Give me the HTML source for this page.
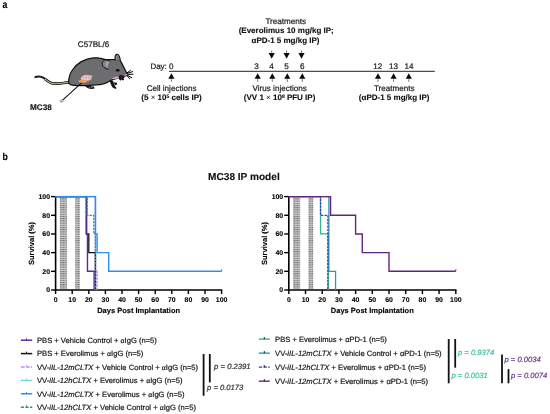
<!DOCTYPE html><html><head><meta charset="utf-8"><style>html,body{margin:0;padding:0;background:#fff;}svg{display:block;}text{text-rendering:geometricPrecision;font-family:'Liberation Sans',Arial,sans-serif;}</style></head><body>
<svg width="550" height="414" viewBox="0 0 550 414">
<defs><pattern id="hatch" patternUnits="userSpaceOnUse" x="0" y="0.4" width="6" height="2.2"><rect width="6" height="2.2" fill="#cbcbcb"/><rect x="0" y="0" width="1.3" height="1" fill="#6e6e6e"/><rect x="1.5" y="0" width="1.2" height="1" fill="#7c7c7c"/><rect x="3" y="0" width="1.3" height="1" fill="#6a6a6a"/><rect x="4.5" y="0" width="1.2" height="1" fill="#858585"/><rect x="0" y="1" width="6" height="0.4" fill="#a8a8a8"/></pattern></defs>
<rect width="550" height="414" fill="#fff"/>
<text transform="translate(2.5,7.8) scale(0.82,1)" x="0" y="0" font-size="10.6" font-weight="bold" fill="#000" stroke="#000" stroke-width="0.15">a</text>
<text transform="translate(2.6,159.9) scale(0.86,1)" x="0" y="0" font-size="10" font-weight="bold" fill="#000" stroke="#000" stroke-width="0.15">b</text>
<g id="mouse" stroke-linejoin="round">
<path d="M35.4,76.9 C38.5,76.2 41.5,76.6 44,78.2 C46.5,80 48.5,82.4 52,83.3 C55,84 60,83.6 63.5,83 L69.5,82.4" fill="none" stroke="#1a1a1a" stroke-width="2.1" stroke-linecap="round"/>
<path d="M44.6,78.7 C46.8,80.4 48.8,82.6 52,83.3 C55,84 60,83.6 63.5,83 L69.5,82.4" fill="none" stroke="#1a1a1a" stroke-width="2.7"/>
<path d="M44.6,78.7 C46.8,80.4 48.8,82.6 52,83.3 C55,84 60,83.6 63.5,83 L69.5,82.4" fill="none" stroke="#c9b993" stroke-width="1.1"/>
<path d="M68.6,82 C68.8,77.5 70.2,73 72.4,70 C75,66.4 78,63.5 81.3,61.6 C85,59.6 89,58.3 93.4,57.9 C96,57.7 98,57.8 99.5,58.1 C102,58.5 104,59.3 106,59.5 L115.4,59.6 L119.8,59.8 C121.2,62 123.5,66.5 124.8,69.3 L126.6,72.8 C127.3,74 127.2,75.2 126.3,75.8 C124,77 120,78 116,78.6 C113,79.2 111.5,80 110,81 C107,83 103.5,84.3 100,84.6 L86,85.6 C80,85.8 73,85.6 70.4,84.6 C69.2,84 68.6,83 68.6,82 Z" fill="#6d6c6f" stroke="#111" stroke-width="1.25"/>
<path d="M115.2,60.4 C114.8,58 115,55 116.6,54.3 C118.2,53.8 119.2,55.6 119.8,57.6 L120.4,60.4" fill="#7d7b80" stroke="#111" stroke-width="1.05"/>
<path d="M116.6,58.6 C116.4,57.2 116.8,55.8 117.6,55.6" fill="none" stroke="#9a98a0" stroke-width="0.6"/>
<path d="M110.2,61.3 C107.5,59.4 103.6,59.6 102.4,62 C101.4,64.6 103,68.4 108.6,69.4 C107.4,66.8 107.8,63.6 110.2,61.3 Z" fill="#858089" stroke="none"/>
<path d="M109.6,61.8 C107.6,61.2 105.6,62 105.4,63.8 C105.4,65.6 106.6,66.8 108.2,67.4 C107.6,65.4 108,63.2 109.6,61.8 Z" fill="#ad9db4" stroke="none"/>
<path d="M110.2,61.3 C107.5,59.4 103.6,59.6 102.4,62 C101.4,64.6 103,68.4 108.6,69.4" fill="none" stroke="#151515" stroke-width="1.0"/>
<ellipse cx="117.7" cy="70.3" rx="1.9" ry="1.35" fill="#111"/>
<path d="M111.5,78.6 C115,76.6 120,75.4 126,75.2 C125,77 121,78 118,78.6 C115,79.2 113,79.4 111.5,78.6 Z" fill="#c0aac4"/>
<path d="M118.4,76 C119.6,74.8 122,74.4 124,75.6 L124.6,77.4 L123.4,78.2 L124.2,79.8 L122.6,80.6 L121.6,79.4 L120.4,80.8 L119.2,79.6 Z" fill="#151515"/>
<path d="M120.4,77 L122.4,76.6" stroke="#6d6c6f" stroke-width="0.5"/>
<path d="M126.8,73.6 L132.6,71.6 M127,74.4 L133,74.2 M126.8,75 L131.8,77.8 M126.4,73.4 L130.4,70.4 M126.6,75.2 L129.6,78.6" stroke="#000" stroke-width="1.0" fill="none" stroke-linecap="round"/>
<ellipse cx="126.4" cy="74.6" rx="1.1" ry="0.9" fill="#c6a6c4"/>
<path d="M109.6,80.6 C110.6,83.6 111.4,86.2 112.6,87.6 L115.6,89 L116.6,88 C115,86.6 113.8,84 113.2,81 Z" fill="#151515"/>
<path d="M113.6,82.4 L116.6,82.6 L117.2,84.6 L115,85.2 Z" fill="#151515"/>
<path d="M84.6,85 C86,87.6 88.6,89 92,89 L94.6,88.4 L94,86.6 C91.6,86.6 89.6,86 88.6,85 Z" fill="#151515"/>
<path d="M88.4,87.2 L90.6,87.6 L92.8,87.2" stroke="#8a8a8a" stroke-width="0.5" fill="none"/>
<path d="M80.8,78.6 C81.6,76.6 83,75 86,74.9 L91.8,75.6 L91.2,79.4 L88,80.8 L81.6,80.6 Z" fill="#e6c6cc" stroke="#d59aa6" stroke-width="0.45"/>
<path d="M83.5,76.4 L82.6,79.6 M86.6,76 L85.4,79.8 M89.4,76.2 L88.6,79.8 M84,77.6 L90.6,77.8" stroke="#d08fa0" stroke-width="0.4" fill="none"/>
<ellipse cx="82.8" cy="81.4" rx="4.2" ry="1.3" fill="#f1a055"/>
<path d="M81.6,82.8 L62.6,100.2" stroke="#111" stroke-width="1.1"/>
<path d="M59.6,100.6 L62.2,99.2 L63.6,101.4 L61,102.8 Z" fill="#b4b4b4" stroke="#888" stroke-width="0.3"/>
</g>
<text x="77.80" y="46.60" font-size="8.1" font-weight="normal" font-style="normal" text-anchor="start" fill="#222" stroke="#222" stroke-width="0.22" >C57BL/6</text>
<text x="30.00" y="109.70" font-size="8.2" font-weight="bold" font-style="normal" text-anchor="start" fill="#111" stroke="#111" stroke-width="0.12" >MC38</text>
<line x1="169" y1="71.3" x2="434.8" y2="71.3" stroke="#222" stroke-width="1"/>
<text x="150.40" y="68.60" font-size="8.0" font-weight="normal" font-style="normal" text-anchor="start" fill="#222" stroke="#222" stroke-width="0.22" >Day: 0</text>
<text x="256.50" y="68.60" font-size="8.1" font-weight="normal" font-style="normal" text-anchor="middle" fill="#222" stroke="#222" stroke-width="0.22" >3</text>
<text x="271.50" y="68.60" font-size="8.1" font-weight="normal" font-style="normal" text-anchor="middle" fill="#222" stroke="#222" stroke-width="0.22" >4</text>
<text x="286.50" y="68.60" font-size="8.1" font-weight="normal" font-style="normal" text-anchor="middle" fill="#222" stroke="#222" stroke-width="0.22" >5</text>
<text x="302.30" y="68.60" font-size="8.1" font-weight="normal" font-style="normal" text-anchor="middle" fill="#222" stroke="#222" stroke-width="0.22" >6</text>
<text x="377.70" y="68.60" font-size="8.1" font-weight="normal" font-style="normal" text-anchor="middle" fill="#222" stroke="#222" stroke-width="0.22" >12</text>
<text x="393.40" y="68.60" font-size="8.1" font-weight="normal" font-style="normal" text-anchor="middle" fill="#222" stroke="#222" stroke-width="0.22" >13</text>
<text x="409.00" y="68.60" font-size="8.1" font-weight="normal" font-style="normal" text-anchor="middle" fill="#222" stroke="#222" stroke-width="0.22" >14</text>
<path d="M168.30,78.8 L171.40,73.2 L174.50,78.8 Z" fill="#0a0a0a"/>
<line x1="171.40" y1="78" x2="171.40" y2="81.6" stroke="#222" stroke-width="0.8" stroke-dasharray="1.6,0.6,1.4"/>
<path d="M254.60,78.8 L257.70,73.2 L260.80,78.8 Z" fill="#0a0a0a"/>
<line x1="257.70" y1="78" x2="257.70" y2="81.6" stroke="#222" stroke-width="0.8" stroke-dasharray="1.6,0.6,1.4"/>
<path d="M269.20,78.8 L272.30,73.2 L275.40,78.8 Z" fill="#0a0a0a"/>
<line x1="272.30" y1="78" x2="272.30" y2="81.6" stroke="#222" stroke-width="0.8" stroke-dasharray="1.6,0.6,1.4"/>
<path d="M284.20,78.8 L287.30,73.2 L290.40,78.8 Z" fill="#0a0a0a"/>
<line x1="287.30" y1="78" x2="287.30" y2="81.6" stroke="#222" stroke-width="0.8" stroke-dasharray="1.6,0.6,1.4"/>
<path d="M299.20,78.8 L302.30,73.2 L305.40,78.8 Z" fill="#0a0a0a"/>
<line x1="302.30" y1="78" x2="302.30" y2="81.6" stroke="#222" stroke-width="0.8" stroke-dasharray="1.6,0.6,1.4"/>
<path d="M374.90,78.8 L378.00,73.2 L381.10,78.8 Z" fill="#0a0a0a"/>
<line x1="378.00" y1="78" x2="378.00" y2="81.6" stroke="#222" stroke-width="0.8" stroke-dasharray="1.6,0.6,1.4"/>
<path d="M390.50,78.8 L393.60,73.2 L396.70,78.8 Z" fill="#0a0a0a"/>
<line x1="393.60" y1="78" x2="393.60" y2="81.6" stroke="#222" stroke-width="0.8" stroke-dasharray="1.6,0.6,1.4"/>
<path d="M405.70,78.8 L408.80,73.2 L411.90,78.8 Z" fill="#0a0a0a"/>
<line x1="408.80" y1="78" x2="408.80" y2="81.6" stroke="#222" stroke-width="0.8" stroke-dasharray="1.6,0.6,1.4"/>
<path d="M268.60,53.1 L271.70,58.7 L274.80,53.1 Z" fill="#0a0a0a"/>
<line x1="271.70" y1="50.6" x2="271.70" y2="54" stroke="#222" stroke-width="0.8" stroke-dasharray="1.2,0.6,2"/>
<path d="M283.50,53.1 L286.60,58.7 L289.70,53.1 Z" fill="#0a0a0a"/>
<line x1="286.60" y1="50.6" x2="286.60" y2="54" stroke="#222" stroke-width="0.8" stroke-dasharray="1.2,0.6,2"/>
<path d="M298.40,53.1 L301.50,58.7 L304.60,53.1 Z" fill="#0a0a0a"/>
<line x1="301.50" y1="50.6" x2="301.50" y2="54" stroke="#222" stroke-width="0.8" stroke-dasharray="1.2,0.6,2"/>
<text x="285.80" y="24.00" font-size="8.1" font-weight="normal" font-style="normal" text-anchor="middle" fill="#222" stroke="#222" stroke-width="0.22" >Treatments</text>
<text x="286.20" y="33.20" font-size="8.0" font-weight="bold" font-style="normal" text-anchor="middle" fill="#111" stroke="#111" stroke-width="0.12" >(Everolimus 10 mg/kg IP;</text>
<text x="285.50" y="43.00" font-size="8.0" font-weight="bold" font-style="normal" text-anchor="middle" fill="#111" stroke="#111" stroke-width="0.12" >αPD-1 5 mg/kg IP)</text>
<text x="171.60" y="91.00" font-size="8.1" font-weight="normal" font-style="normal" text-anchor="middle" fill="#222" stroke="#222" stroke-width="0.22" >Cell injections</text>
<text x="171.5" y="100.4" font-size="8.0" font-weight="bold" text-anchor="middle" fill="#111" stroke="#111" stroke-width="0.12">(5 <tspan font-weight="normal" stroke-width="0">×</tspan> 10<tspan font-size="5" dy="-2.8">5</tspan><tspan dy="2.8"> cells IP)</tspan></text>
<text x="279.70" y="91.00" font-size="8.1" font-weight="normal" font-style="normal" text-anchor="middle" fill="#222" stroke="#222" stroke-width="0.22" >Virus injections</text>
<text x="279.6" y="100.4" font-size="8.0" font-weight="bold" text-anchor="middle" fill="#111" stroke="#111" stroke-width="0.12">(VV 1 <tspan font-weight="normal" stroke-width="0">×</tspan> 10<tspan font-size="5" dy="-2.8">8</tspan><tspan dy="2.8"> PFU IP)</tspan></text>
<text x="394.20" y="91.00" font-size="8.1" font-weight="normal" font-style="normal" text-anchor="middle" fill="#222" stroke="#222" stroke-width="0.22" >Treatments</text>
<text x="394.20" y="100.40" font-size="8.0" font-weight="bold" font-style="normal" text-anchor="middle" fill="#111" stroke="#111" stroke-width="0.12" >(αPD-1 5 mg/kg IP)</text>
<text x="243.90" y="180.30" font-size="10.1" font-weight="bold" font-style="normal" text-anchor="middle" fill="#111" stroke="#111" stroke-width="0.12" >MC38 IP model</text>
<rect x="59.92" y="197.40" width="6.97" height="91.80" fill="url(#hatch)"/>
<rect x="75.19" y="197.40" width="4.65" height="91.80" fill="url(#hatch)"/>
<line x1="55.60" y1="196.10" x2="55.60" y2="291.00" stroke="#000" stroke-width="1.6"/>
<line x1="51.00" y1="290.00" x2="55.60" y2="290.00" stroke="#000" stroke-width="1.4"/>
<text x="50.00" y="292.40" font-size="6.9" font-weight="bold" font-style="normal" text-anchor="end" fill="#000" stroke="#000" stroke-width="0.12" >0</text>
<line x1="51.00" y1="271.32" x2="55.60" y2="271.32" stroke="#000" stroke-width="1.4"/>
<text x="50.00" y="273.72" font-size="6.9" font-weight="bold" font-style="normal" text-anchor="end" fill="#000" stroke="#000" stroke-width="0.12" >20</text>
<line x1="51.00" y1="252.64" x2="55.60" y2="252.64" stroke="#000" stroke-width="1.4"/>
<text x="50.00" y="255.04" font-size="6.9" font-weight="bold" font-style="normal" text-anchor="end" fill="#000" stroke="#000" stroke-width="0.12" >40</text>
<line x1="51.00" y1="233.96" x2="55.60" y2="233.96" stroke="#000" stroke-width="1.4"/>
<text x="50.00" y="236.36" font-size="6.9" font-weight="bold" font-style="normal" text-anchor="end" fill="#000" stroke="#000" stroke-width="0.12" >60</text>
<line x1="51.00" y1="215.28" x2="55.60" y2="215.28" stroke="#000" stroke-width="1.4"/>
<text x="50.00" y="217.68" font-size="6.9" font-weight="bold" font-style="normal" text-anchor="end" fill="#000" stroke="#000" stroke-width="0.12" >80</text>
<line x1="51.00" y1="196.60" x2="55.60" y2="196.60" stroke="#000" stroke-width="1.4"/>
<text x="50.00" y="199.00" font-size="6.9" font-weight="bold" font-style="normal" text-anchor="end" fill="#000" stroke="#000" stroke-width="0.12" >100</text>
<line x1="54.80" y1="290.00" x2="222.30" y2="290.00" stroke="#000" stroke-width="1.6"/>
<line x1="55.60" y1="290.00" x2="55.60" y2="294.00" stroke="#000" stroke-width="1.4"/>
<text x="55.60" y="301.90" font-size="6.9" font-weight="bold" font-style="normal" text-anchor="middle" fill="#000" stroke="#000" stroke-width="0.12" >0</text>
<line x1="72.20" y1="290.00" x2="72.20" y2="294.00" stroke="#000" stroke-width="1.4"/>
<text x="72.20" y="301.90" font-size="6.9" font-weight="bold" font-style="normal" text-anchor="middle" fill="#000" stroke="#000" stroke-width="0.12" >10</text>
<line x1="88.80" y1="290.00" x2="88.80" y2="294.00" stroke="#000" stroke-width="1.4"/>
<text x="88.80" y="301.90" font-size="6.9" font-weight="bold" font-style="normal" text-anchor="middle" fill="#000" stroke="#000" stroke-width="0.12" >20</text>
<line x1="105.40" y1="290.00" x2="105.40" y2="294.00" stroke="#000" stroke-width="1.4"/>
<text x="105.40" y="301.90" font-size="6.9" font-weight="bold" font-style="normal" text-anchor="middle" fill="#000" stroke="#000" stroke-width="0.12" >30</text>
<line x1="122.00" y1="290.00" x2="122.00" y2="294.00" stroke="#000" stroke-width="1.4"/>
<text x="122.00" y="301.90" font-size="6.9" font-weight="bold" font-style="normal" text-anchor="middle" fill="#000" stroke="#000" stroke-width="0.12" >40</text>
<line x1="138.60" y1="290.00" x2="138.60" y2="294.00" stroke="#000" stroke-width="1.4"/>
<text x="138.60" y="301.90" font-size="6.9" font-weight="bold" font-style="normal" text-anchor="middle" fill="#000" stroke="#000" stroke-width="0.12" >50</text>
<line x1="155.20" y1="290.00" x2="155.20" y2="294.00" stroke="#000" stroke-width="1.4"/>
<text x="155.20" y="301.90" font-size="6.9" font-weight="bold" font-style="normal" text-anchor="middle" fill="#000" stroke="#000" stroke-width="0.12" >60</text>
<line x1="171.80" y1="290.00" x2="171.80" y2="294.00" stroke="#000" stroke-width="1.4"/>
<text x="171.80" y="301.90" font-size="6.9" font-weight="bold" font-style="normal" text-anchor="middle" fill="#000" stroke="#000" stroke-width="0.12" >70</text>
<line x1="188.40" y1="290.00" x2="188.40" y2="294.00" stroke="#000" stroke-width="1.4"/>
<text x="188.40" y="301.90" font-size="6.9" font-weight="bold" font-style="normal" text-anchor="middle" fill="#000" stroke="#000" stroke-width="0.12" >80</text>
<line x1="205.00" y1="290.00" x2="205.00" y2="294.00" stroke="#000" stroke-width="1.4"/>
<text x="205.00" y="301.90" font-size="6.9" font-weight="bold" font-style="normal" text-anchor="middle" fill="#000" stroke="#000" stroke-width="0.12" >90</text>
<line x1="221.60" y1="290.00" x2="221.60" y2="294.00" stroke="#000" stroke-width="1.4"/>
<text x="221.60" y="301.90" font-size="6.9" font-weight="bold" font-style="normal" text-anchor="middle" fill="#000" stroke="#000" stroke-width="0.12" >100</text>
<text x="138.60" y="312.50" font-size="7.5" font-weight="bold" font-style="normal" text-anchor="middle" fill="#000" stroke="#000" stroke-width="0.12" >Days Post Implantation</text>
<text transform="translate(33.80,243.5) rotate(-90)" x="0" y="0" font-size="7.5" font-weight="bold" text-anchor="middle" fill="#000" stroke="#000" stroke-width="0.12">Survival (%)</text>
<path d="M55.60,196.60 L95.44,196.60 L95.44,290.00" fill="none" stroke="#6fd0f4" stroke-width="1.3" stroke-linejoin="miter"/>
<path d="M55.60,196.60 L95.44,196.60 L95.44,271.32 L97.10,271.32 L97.10,290.00" fill="none" stroke="#c48cf2" stroke-width="1.5" stroke-dasharray="2.2,1.2" stroke-linejoin="miter"/>
<path d="M55.60,196.60 L86.64,196.60 L86.64,233.96 L88.80,233.96 L88.80,252.64 L95.44,252.64 L95.44,290.00" fill="none" stroke="#111" stroke-width="1.3" stroke-linejoin="miter"/>
<path d="M55.60,196.60 L86.14,196.60 L86.14,233.96 L87.47,233.96 L87.47,271.32 L94.11,271.32 L94.11,290.00" fill="none" stroke="#5b2c9f" stroke-width="1.4" stroke-linejoin="miter"/>
<path d="M55.60,196.60 L87.14,196.60 L87.14,215.28 L93.78,215.28 L93.78,233.96 L95.44,233.96 L95.44,290.00" fill="none" stroke="#1f9a8c" stroke-width="1.3" stroke-dasharray="2.2,1.1" stroke-linejoin="miter"/>
<path d="M55.60,196.60 L95.44,196.60 L95.44,233.96 L97.10,233.96 L97.10,252.64 L108.72,252.64 L108.72,271.32 L221.60,271.32" fill="none" stroke="#2e8ff0" stroke-width="1.4" stroke-linejoin="miter"/>
<line x1="221.60" y1="271.32" x2="221.60" y2="269.32" stroke="#2e8ff0" stroke-width="1"/>
<rect x="293.14" y="197.40" width="7.01" height="91.80" fill="url(#hatch)"/>
<rect x="308.51" y="197.40" width="4.68" height="91.80" fill="url(#hatch)"/>
<line x1="288.80" y1="196.10" x2="288.80" y2="291.00" stroke="#000" stroke-width="1.6"/>
<line x1="284.20" y1="290.00" x2="288.80" y2="290.00" stroke="#000" stroke-width="1.4"/>
<text x="283.20" y="292.40" font-size="6.9" font-weight="bold" font-style="normal" text-anchor="end" fill="#000" stroke="#000" stroke-width="0.12" >0</text>
<line x1="284.20" y1="271.32" x2="288.80" y2="271.32" stroke="#000" stroke-width="1.4"/>
<text x="283.20" y="273.72" font-size="6.9" font-weight="bold" font-style="normal" text-anchor="end" fill="#000" stroke="#000" stroke-width="0.12" >20</text>
<line x1="284.20" y1="252.64" x2="288.80" y2="252.64" stroke="#000" stroke-width="1.4"/>
<text x="283.20" y="255.04" font-size="6.9" font-weight="bold" font-style="normal" text-anchor="end" fill="#000" stroke="#000" stroke-width="0.12" >40</text>
<line x1="284.20" y1="233.96" x2="288.80" y2="233.96" stroke="#000" stroke-width="1.4"/>
<text x="283.20" y="236.36" font-size="6.9" font-weight="bold" font-style="normal" text-anchor="end" fill="#000" stroke="#000" stroke-width="0.12" >60</text>
<line x1="284.20" y1="215.28" x2="288.80" y2="215.28" stroke="#000" stroke-width="1.4"/>
<text x="283.20" y="217.68" font-size="6.9" font-weight="bold" font-style="normal" text-anchor="end" fill="#000" stroke="#000" stroke-width="0.12" >80</text>
<line x1="284.20" y1="196.60" x2="288.80" y2="196.60" stroke="#000" stroke-width="1.4"/>
<text x="283.20" y="199.00" font-size="6.9" font-weight="bold" font-style="normal" text-anchor="end" fill="#000" stroke="#000" stroke-width="0.12" >100</text>
<line x1="288.00" y1="290.00" x2="456.50" y2="290.00" stroke="#000" stroke-width="1.6"/>
<line x1="288.80" y1="290.00" x2="288.80" y2="294.00" stroke="#000" stroke-width="1.4"/>
<text x="288.80" y="301.90" font-size="6.9" font-weight="bold" font-style="normal" text-anchor="middle" fill="#000" stroke="#000" stroke-width="0.12" >0</text>
<line x1="305.50" y1="290.00" x2="305.50" y2="294.00" stroke="#000" stroke-width="1.4"/>
<text x="305.50" y="301.90" font-size="6.9" font-weight="bold" font-style="normal" text-anchor="middle" fill="#000" stroke="#000" stroke-width="0.12" >10</text>
<line x1="322.20" y1="290.00" x2="322.20" y2="294.00" stroke="#000" stroke-width="1.4"/>
<text x="322.20" y="301.90" font-size="6.9" font-weight="bold" font-style="normal" text-anchor="middle" fill="#000" stroke="#000" stroke-width="0.12" >20</text>
<line x1="338.90" y1="290.00" x2="338.90" y2="294.00" stroke="#000" stroke-width="1.4"/>
<text x="338.90" y="301.90" font-size="6.9" font-weight="bold" font-style="normal" text-anchor="middle" fill="#000" stroke="#000" stroke-width="0.12" >30</text>
<line x1="355.60" y1="290.00" x2="355.60" y2="294.00" stroke="#000" stroke-width="1.4"/>
<text x="355.60" y="301.90" font-size="6.9" font-weight="bold" font-style="normal" text-anchor="middle" fill="#000" stroke="#000" stroke-width="0.12" >40</text>
<line x1="372.30" y1="290.00" x2="372.30" y2="294.00" stroke="#000" stroke-width="1.4"/>
<text x="372.30" y="301.90" font-size="6.9" font-weight="bold" font-style="normal" text-anchor="middle" fill="#000" stroke="#000" stroke-width="0.12" >50</text>
<line x1="389.00" y1="290.00" x2="389.00" y2="294.00" stroke="#000" stroke-width="1.4"/>
<text x="389.00" y="301.90" font-size="6.9" font-weight="bold" font-style="normal" text-anchor="middle" fill="#000" stroke="#000" stroke-width="0.12" >60</text>
<line x1="405.70" y1="290.00" x2="405.70" y2="294.00" stroke="#000" stroke-width="1.4"/>
<text x="405.70" y="301.90" font-size="6.9" font-weight="bold" font-style="normal" text-anchor="middle" fill="#000" stroke="#000" stroke-width="0.12" >70</text>
<line x1="422.40" y1="290.00" x2="422.40" y2="294.00" stroke="#000" stroke-width="1.4"/>
<text x="422.40" y="301.90" font-size="6.9" font-weight="bold" font-style="normal" text-anchor="middle" fill="#000" stroke="#000" stroke-width="0.12" >80</text>
<line x1="439.10" y1="290.00" x2="439.10" y2="294.00" stroke="#000" stroke-width="1.4"/>
<text x="439.10" y="301.90" font-size="6.9" font-weight="bold" font-style="normal" text-anchor="middle" fill="#000" stroke="#000" stroke-width="0.12" >90</text>
<line x1="455.80" y1="290.00" x2="455.80" y2="294.00" stroke="#000" stroke-width="1.4"/>
<text x="455.80" y="301.90" font-size="6.9" font-weight="bold" font-style="normal" text-anchor="middle" fill="#000" stroke="#000" stroke-width="0.12" >100</text>
<text x="372.30" y="312.50" font-size="7.5" font-weight="bold" font-style="normal" text-anchor="middle" fill="#000" stroke="#000" stroke-width="0.12" >Days Post Implantation</text>
<text transform="translate(267.00,243.5) rotate(-90)" x="0" y="0" font-size="7.5" font-weight="bold" text-anchor="middle" fill="#000" stroke="#000" stroke-width="0.12">Survival (%)</text>
<path d="M288.80,196.60 L320.53,196.60 L320.53,233.96 L328.21,233.96 L328.21,290.00" fill="none" stroke="#2cb795" stroke-width="1.3" stroke-linejoin="miter"/>
<path d="M288.80,196.60 L328.88,196.60 L328.88,271.32 L335.56,271.32 L335.56,290.00" fill="none" stroke="#2a9ab6" stroke-width="1.3" stroke-linejoin="miter"/>
<path d="M288.80,196.60 L320.53,196.60 L320.53,215.28 L327.88,215.28 L327.88,290.00" fill="none" stroke="#3a3aad" stroke-width="1.3" stroke-dasharray="2.2,1.2" stroke-linejoin="miter"/>
<path d="M288.80,196.60 L330.55,196.60 L330.55,215.28 L355.60,215.28 L355.60,233.96 L362.28,233.96 L362.28,252.64 L389.00,252.64 L389.00,271.32 L455.80,271.32" fill="none" stroke="#62267f" stroke-width="1.4" stroke-linejoin="miter"/>
<line x1="455.80" y1="271.32" x2="455.80" y2="269.32" stroke="#62267f" stroke-width="1"/>
<line x1="20.9" y1="340.20" x2="32.2" y2="340.20" stroke="#5b2c9f" stroke-width="1.5"/>
<line x1="26.55" y1="338.20" x2="26.55" y2="340.20" stroke="#5b2c9f" stroke-width="0.9"/>
<text x="37.0" y="342.90" font-size="7.6" fill="#1a1a1a" stroke="#1a1a1a" stroke-width="0.22">PBS + Vehicle Control + <tspan font-family="Liberation Serif">α</tspan>IgG (n=5)</text>
<line x1="20.9" y1="353.60" x2="32.2" y2="353.60" stroke="#111" stroke-width="1.5"/>
<line x1="26.55" y1="351.60" x2="26.55" y2="353.60" stroke="#111" stroke-width="0.9"/>
<text x="37.0" y="356.30" font-size="7.6" fill="#1a1a1a" stroke="#1a1a1a" stroke-width="0.22">PBS + Everolimus + <tspan font-family="Liberation Serif">α</tspan>IgG (n=5)</text>
<line x1="20.9" y1="367.00" x2="32.2" y2="367.00" stroke="#c48cf2" stroke-width="1.5" stroke-dasharray="3.8,1.2"/>
<line x1="26.55" y1="365.00" x2="26.55" y2="367.00" stroke="#c48cf2" stroke-width="0.9"/>
<text x="37.0" y="369.70" font-size="7.6" fill="#1a1a1a" stroke="#1a1a1a" stroke-width="0.22">VV-<tspan font-style="italic">iIL-12mCLTX</tspan> + Vehicle Control + <tspan font-family="Liberation Serif">α</tspan>IgG (n=5)</text>
<line x1="20.9" y1="380.40" x2="32.2" y2="380.40" stroke="#6fd0f4" stroke-width="1.3"/>
<line x1="26.55" y1="378.40" x2="26.55" y2="380.40" stroke="#6fd0f4" stroke-width="0.9"/>
<text x="37.0" y="383.10" font-size="7.6" fill="#1a1a1a" stroke="#1a1a1a" stroke-width="0.22">VV-<tspan font-style="italic">iIL-12hCLTX</tspan> + Everolimus + <tspan font-family="Liberation Serif">α</tspan>IgG (n=5)</text>
<line x1="20.9" y1="393.80" x2="32.2" y2="393.80" stroke="#2e8ff0" stroke-width="1.5"/>
<line x1="26.55" y1="391.80" x2="26.55" y2="393.80" stroke="#2e8ff0" stroke-width="0.9"/>
<text x="37.0" y="396.50" font-size="7.6" fill="#1a1a1a" stroke="#1a1a1a" stroke-width="0.22">VV-<tspan font-style="italic">iIL-12mCLTX</tspan> + Everolimus + <tspan font-family="Liberation Serif">α</tspan>IgG (n=5)</text>
<line x1="20.9" y1="407.20" x2="32.2" y2="407.20" stroke="#1f9a8c" stroke-width="1.5" stroke-dasharray="3.2,1.3"/>
<line x1="26.55" y1="405.20" x2="26.55" y2="407.20" stroke="#1f9a8c" stroke-width="0.9"/>
<text x="37.0" y="409.90" font-size="7.6" fill="#1a1a1a" stroke="#1a1a1a" stroke-width="0.22">VV-<tspan font-style="italic">iIL-12hCLTX</tspan> + Vehicle Control + <tspan font-family="Liberation Serif">α</tspan>IgG (n=5)</text>
<line x1="258.8" y1="339.10" x2="269.8" y2="339.10" stroke="#2cb795" stroke-width="1.4"/>
<line x1="264.30" y1="337.10" x2="264.30" y2="339.10" stroke="#000" stroke-width="0.9"/>
<text x="275.1" y="341.80" font-size="7.6" fill="#1a1a1a" stroke="#1a1a1a" stroke-width="0.22">PBS + Everolimus + αPD-1 (n=5)</text>
<line x1="258.8" y1="353.13" x2="269.8" y2="353.13" stroke="#2a9ab6" stroke-width="1.4"/>
<line x1="264.30" y1="351.13" x2="264.30" y2="353.13" stroke="#000" stroke-width="0.9"/>
<text x="275.1" y="355.83" font-size="7.6" fill="#1a1a1a" stroke="#1a1a1a" stroke-width="0.22">VV-<tspan font-style="italic">iIL-12mCLTX</tspan> + Vehicle Control + αPD-1 (n=5)</text>
<line x1="258.8" y1="367.16" x2="269.8" y2="367.16" stroke="#3a3aad" stroke-width="1.4" stroke-dasharray="3.4,1.3"/>
<line x1="264.30" y1="365.16" x2="264.30" y2="367.16" stroke="#000" stroke-width="0.9"/>
<text x="275.1" y="369.86" font-size="7.6" fill="#1a1a1a" stroke="#1a1a1a" stroke-width="0.22">VV-<tspan font-style="italic">iIL-12hCLTX</tspan> + Everolimus + αPD-1 (n=5)</text>
<line x1="258.8" y1="381.19" x2="269.8" y2="381.19" stroke="#62267f" stroke-width="1.4"/>
<line x1="264.30" y1="379.19" x2="264.30" y2="381.19" stroke="#000" stroke-width="0.9"/>
<text x="275.1" y="383.89" font-size="7.6" fill="#1a1a1a" stroke="#1a1a1a" stroke-width="0.22">VV-<tspan font-style="italic">iIL-12mCLTX</tspan> + Everolimus + αPD-1 (n=5)</text>
<line x1="203.6" y1="354" x2="203.6" y2="395.8" stroke="#111" stroke-width="1.8"/>
<line x1="209.8" y1="354" x2="209.8" y2="382.4" stroke="#111" stroke-width="1.8"/>
<text x="214.10" y="369.20" font-size="7.7" font-weight="normal" font-style="italic" text-anchor="start" fill="#333" stroke="#333" stroke-width="0.22" >p = 0.2391</text>
<text x="207.10" y="390.20" font-size="7.6" font-weight="normal" font-style="italic" text-anchor="start" fill="#333" stroke="#333" stroke-width="0.22" >p = 0.0173</text>
<line x1="448.7" y1="339" x2="448.7" y2="383.3" stroke="#111" stroke-width="1.8"/>
<line x1="455.2" y1="339" x2="455.2" y2="367.7" stroke="#111" stroke-width="1.8"/>
<text x="458.00" y="354.60" font-size="7.6" font-weight="normal" font-style="italic" text-anchor="start" fill="#3dbf9f" stroke="#3dbf9f" stroke-width="0.22" >p = 0.9374</text>
<text x="451.50" y="377.80" font-size="7.6" font-weight="normal" font-style="italic" text-anchor="start" fill="#3dbf9f" stroke="#3dbf9f" stroke-width="0.22" >p = 0.0031</text>
<line x1="502.0" y1="354.6" x2="502.0" y2="383.2" stroke="#111" stroke-width="1.8"/>
<line x1="508.5" y1="369.1" x2="508.5" y2="383.3" stroke="#111" stroke-width="1.8"/>
<text x="504.50" y="362.40" font-size="7.6" font-weight="normal" font-style="italic" text-anchor="start" fill="#6a3a8e" stroke="#6a3a8e" stroke-width="0.22" >p = 0.0034</text>
<text x="511.00" y="377.80" font-size="7.6" font-weight="normal" font-style="italic" text-anchor="start" fill="#6a3a8e" stroke="#6a3a8e" stroke-width="0.22" >p = 0.0074</text>
</svg></body></html>
